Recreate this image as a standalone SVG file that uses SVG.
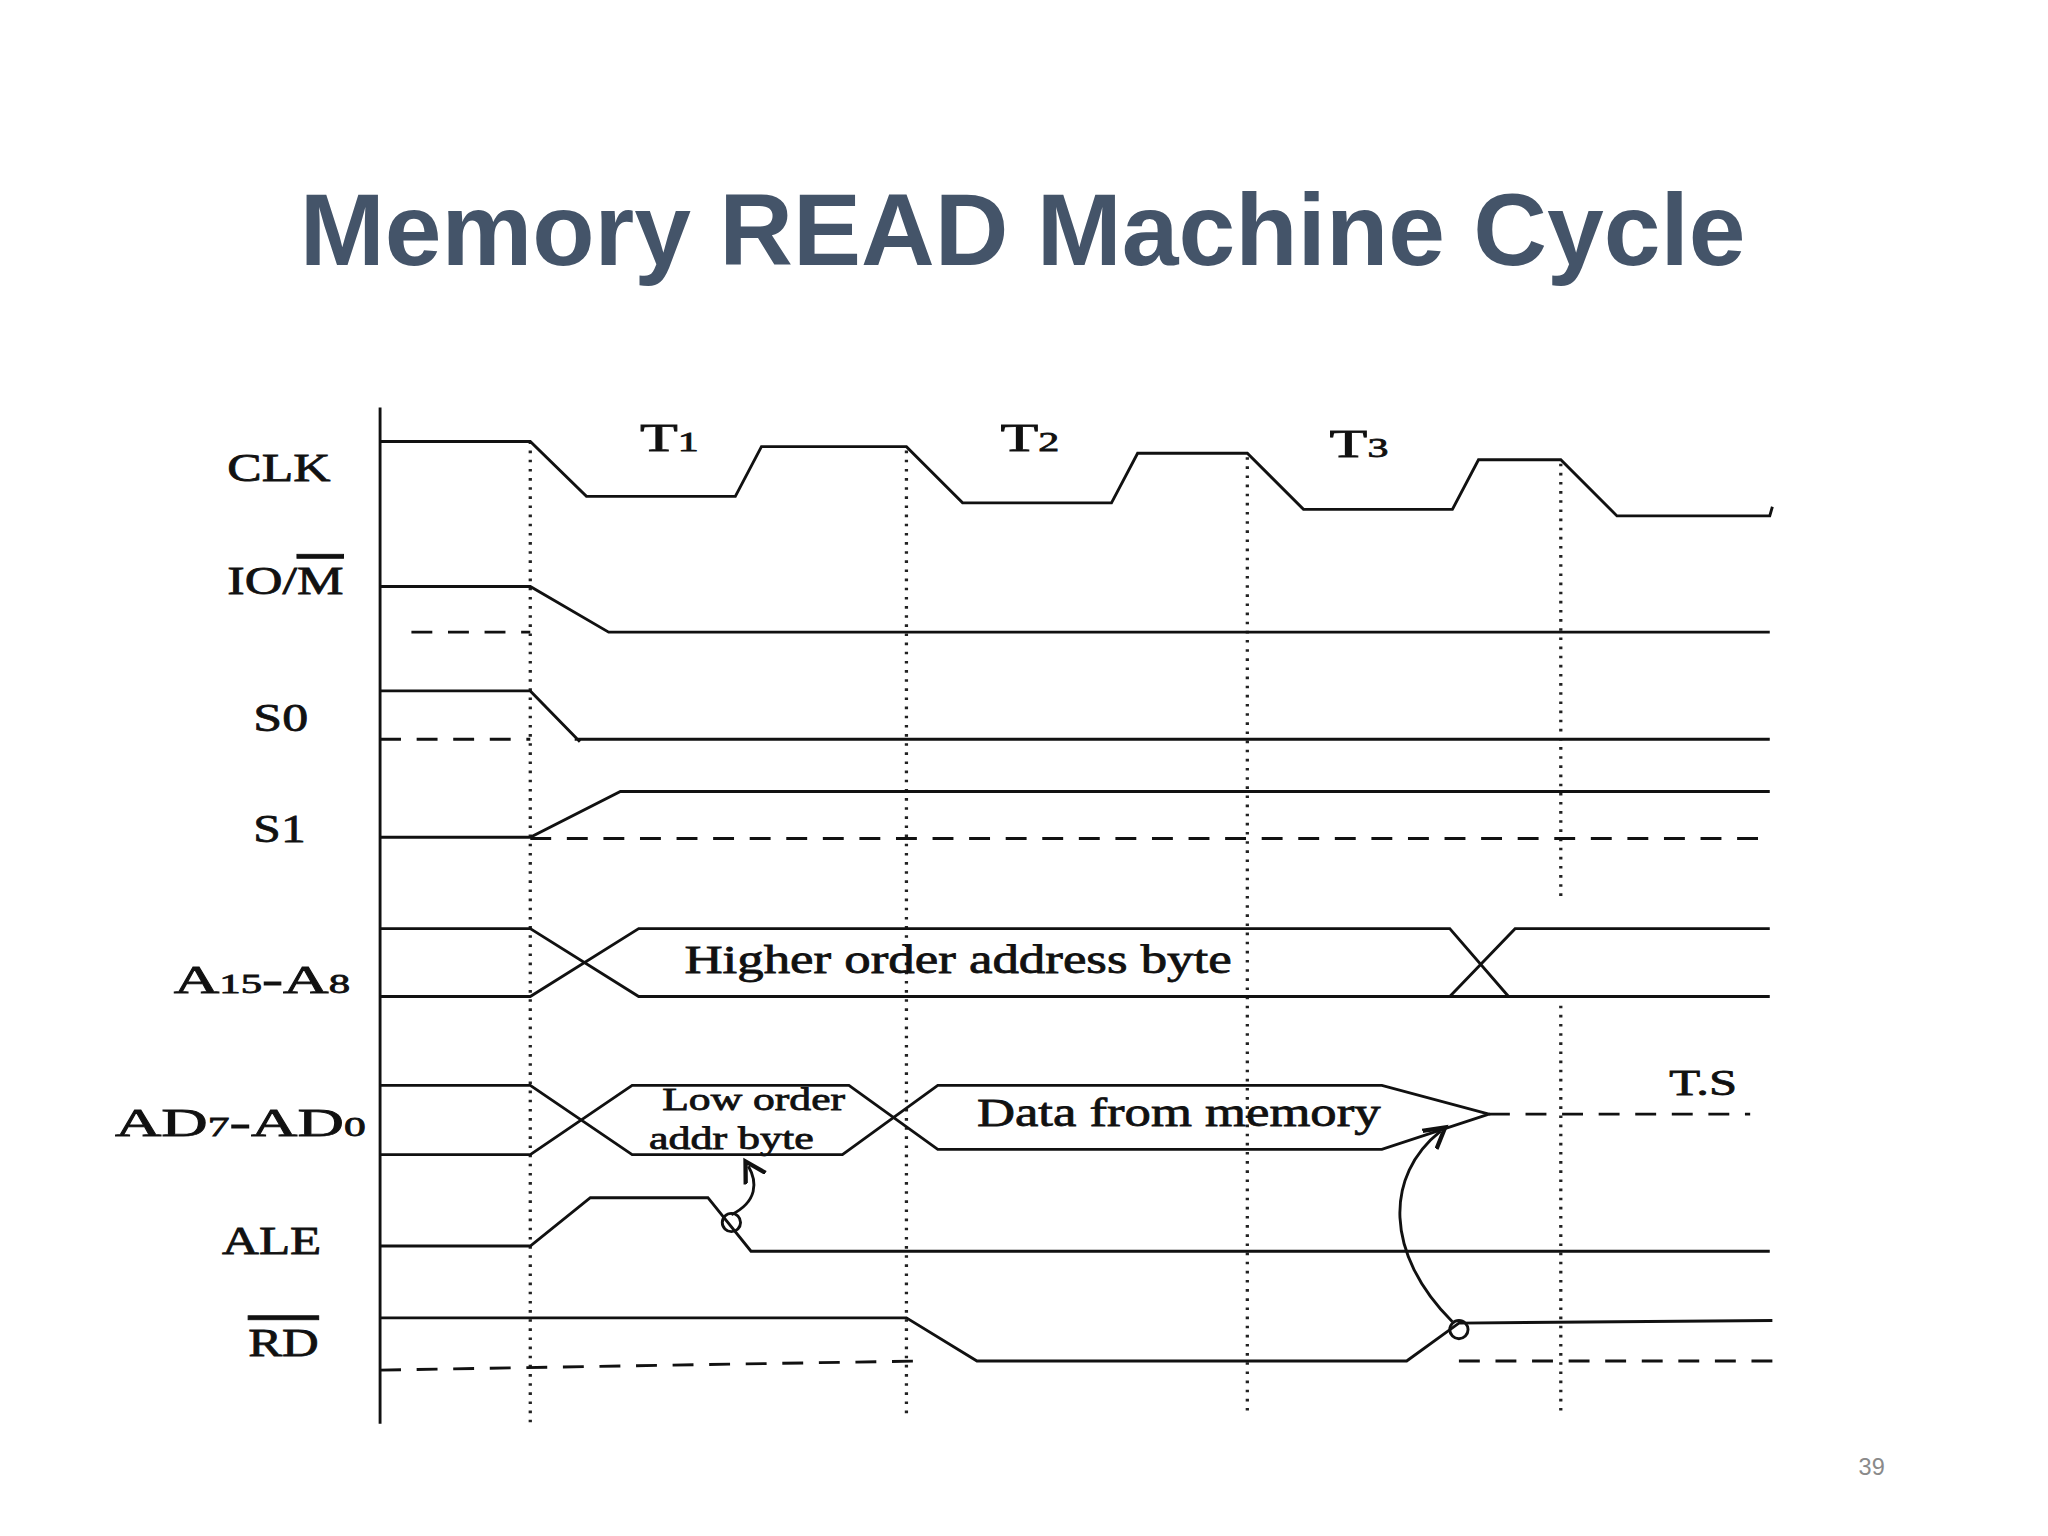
<svg xmlns="http://www.w3.org/2000/svg" width="2048" height="1536" viewBox="0 0 2048 1536">
<style>
.w{fill:none;stroke:#111;stroke-width:2.2}
.d{fill:none;stroke:#111;stroke-width:2.2;stroke-dasharray:16 12}
.g{fill:none;stroke:#222;stroke-width:2.5;stroke-dasharray:2 5}
.l{font-family:"Liberation Serif",serif;font-size:31px;fill:#111;stroke:#111;stroke-width:0.6}
.s{font-size:21px}
</style>
<defs><marker id="ah" markerWidth="10" markerHeight="10" refX="5" refY="5" orient="auto"><path d="M0,1 L7,5 L0,9" fill="none" stroke="#111" stroke-width="1.5"/></marker></defs>
<rect width="2048" height="1536" fill="#fff"/>
<g transform="scale(1.3061)">
<text x="783" y="203" text-anchor="middle" font-family="Liberation Sans,Arial,sans-serif" font-weight="bold" font-size="78" fill="#445469" textLength="1107" lengthAdjust="spacingAndGlyphs">Memory READ Machine Cycle</text>
<g id="axis"><path class="w" d="M291,312 V1090" stroke-width="3"/></g>
<g id="grid">
<path class="g" d="M406,338 V1090 M694,345 V1082 M955,350 V1082 M1195,355 V690 M1195,770 V1082"/>
</g>
<g id="connectors">
<path class="w" d="M291,338 H406 L449,380 H563 L583,342 H694 L737,385 H851 L871,347 H955 L998,390 H1112 L1132,352 H1195 L1238,395 H1355 L1357,388"/>
<path class="w" d="M291,449 H406 L466,484 H1355"/><path class="d" d="M315,484 H406"/>
<path class="w" d="M291,529 H406 L444,568 M440,566 H1355"/><path class="d" d="M291,566 H406"/>
<path class="w" d="M291,641 H406 L475,606 H1355"/><path class="d" d="M406,642 H1355"/>
<path class="w" d="M291,711 H406 L489,763 H1110 L1155,763 M291,763 H406 L489,711 H1110 L1155,763 H1355 M1110,763 L1160,711 H1355"/>
<path class="w" d="M291,831 H406 L484,884 H645 L718,831 H1058 L1140,853 L1058,880 H718 L650,831 H484 L406,884 H291"/>
<path class="d" d="M1140,853 H1340"/>
<path class="w" d="M291,954 H406 L452,917 H542 L575,958 H1355"/>
<circle cx="560" cy="936" r="7" class="w"/>
<path class="w" d="M560,930 C580,920 580,905 573,893" marker-end="url(#ah)"/>
<path class="w" d="M291,1009 H694 L748,1042 H1077 L1117,1013 L1357,1011"/>
<path class="d" d="M291,1049 L705,1042 M1117,1042 H1357"/>
<circle cx="1117" cy="1018" r="7" class="w"/>
<path class="w" d="M1112,1012 C1060,960 1060,900 1103,866" marker-end="url(#ah)"/>
</g>
<g id="labels" class="l">
<text x="490" y="345" textLength="45" lengthAdjust="spacingAndGlyphs">T<tspan class="s">1</tspan></text>
<text x="766" y="345" textLength="45" lengthAdjust="spacingAndGlyphs">T<tspan class="s">2</tspan></text>
<text x="1018" y="350" textLength="45" lengthAdjust="spacingAndGlyphs">T<tspan class="s">3</tspan></text>
<text x="174" y="368" textLength="79" lengthAdjust="spacingAndGlyphs">CLK</text>
<text x="174" y="455" textLength="89" lengthAdjust="spacingAndGlyphs">IO/<tspan text-decoration="overline">M</tspan></text>
<text x="194" y="560" textLength="42" lengthAdjust="spacingAndGlyphs">S0</text>
<text x="194" y="645" textLength="40" lengthAdjust="spacingAndGlyphs">S1</text>
<text x="133" y="760" textLength="135" lengthAdjust="spacingAndGlyphs">A<tspan class="s">15</tspan>-A<tspan class="s">8</tspan></text>
<text x="88" y="870" textLength="192" lengthAdjust="spacingAndGlyphs">AD<tspan class="s">7</tspan>-AD<tspan class="s">0</tspan></text>
<text x="170" y="960" textLength="76" lengthAdjust="spacingAndGlyphs">ALE</text>
<text x="190" y="1038" text-decoration="overline" textLength="54" lengthAdjust="spacingAndGlyphs">RD</text>
<text x="524" y="745" textLength="419" lengthAdjust="spacingAndGlyphs">Higher order address byte</text>
<text x="507" y="850" font-size="24" textLength="140" lengthAdjust="spacingAndGlyphs">Low order</text>
<text x="497" y="880" font-size="24" textLength="126" lengthAdjust="spacingAndGlyphs">addr byte</text>
<text x="748" y="862" textLength="309" lengthAdjust="spacingAndGlyphs">Data from memory</text>
<text x="1278" y="838" font-size="28" textLength="52" lengthAdjust="spacingAndGlyphs">T.S</text>
</g>
<text x="1433" y="1129" text-anchor="middle" font-family="Liberation Sans,sans-serif" font-size="18" fill="#8a8a8a">39</text>
</g>
</svg>
